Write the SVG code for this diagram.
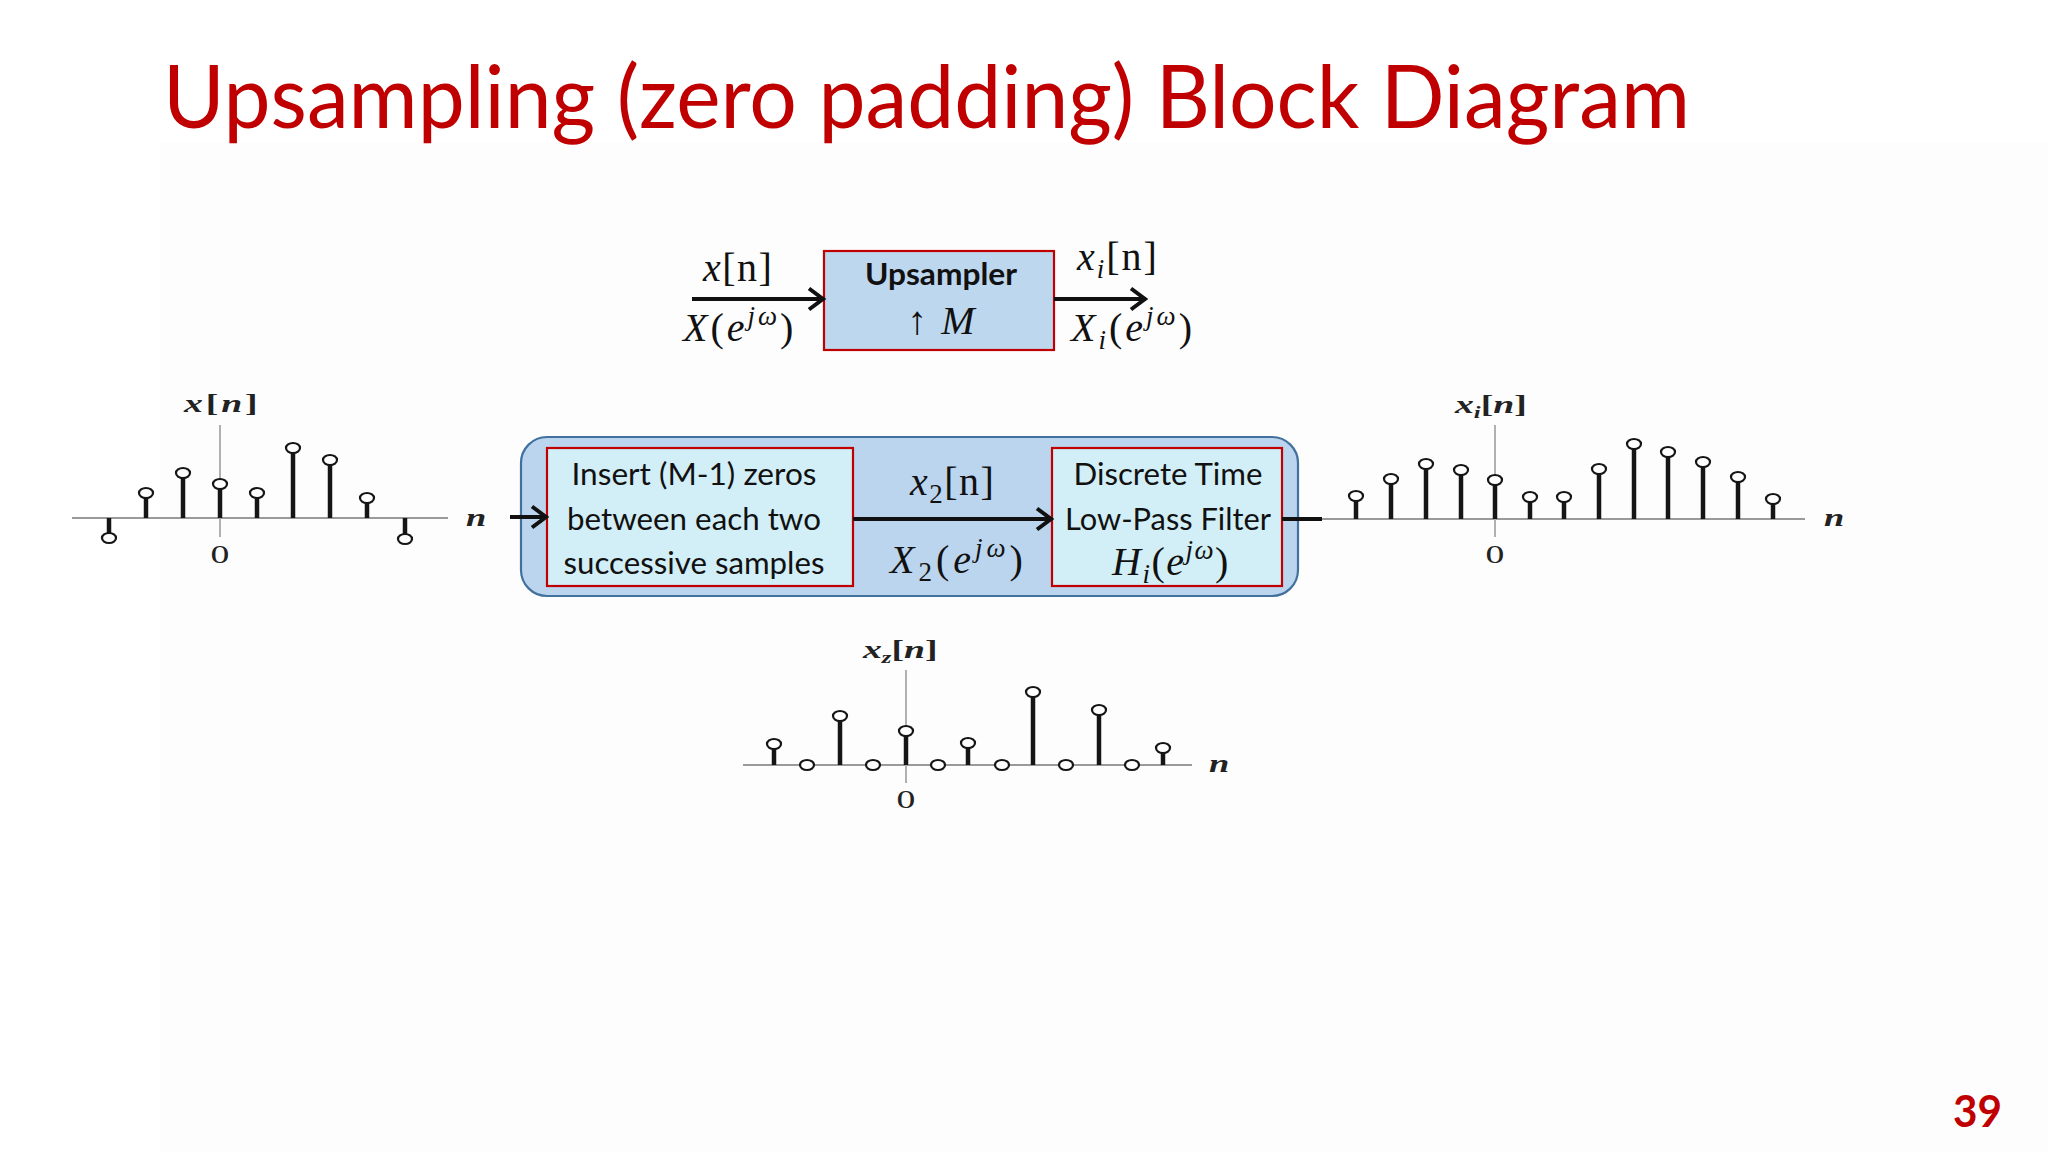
<svg xmlns="http://www.w3.org/2000/svg" width="2048" height="1152" viewBox="0 0 2048 1152">
<defs>
<style>
.title{font-family:Lato,"Open Sans","Liberation Sans",sans-serif;font-size:88px;fill:#C00000}
.pg{font-family:Lato,"Open Sans","Liberation Sans",sans-serif;font-size:43px;font-weight:bold;fill:#C00000}
.body{font-family:Lato,"Open Sans","Liberation Sans",sans-serif;font-size:30.5px;fill:#111}
.bold{font-weight:bold}
.math{font-family:"Liberation Serif","DejaVu Serif",serif;font-size:40px;fill:#111}
.it{font-style:italic}
.sm{font-size:27px}
.plab{font-family:"Liberation Serif","DejaVu Serif",serif;font-size:26px;font-weight:bold;fill:#222}
.zero{font-family:"Liberation Serif","DejaVu Serif",serif;font-size:26px;fill:#222}
.red{stroke:#C00000;stroke-width:2.2}
.conn{stroke:#111;stroke-width:4;fill:none}
.axis{stroke:#9a9a9a;stroke-width:2;fill:none}
.vaxis{stroke:#b0b0b0;stroke-width:2;fill:none}
.stem{stroke:#151515;stroke-width:4.5;fill:none}
.dot{fill:#fff;stroke:#151515;stroke-width:2.2}
</style>
<marker id="arr" markerUnits="userSpaceOnUse" viewBox="0 0 22 26" markerWidth="22" markerHeight="26" refX="19" refY="13" orient="auto">
<path d="M4,2.5 L18,13 L4,23.5" fill="none" stroke="#111" stroke-width="4"/>
</marker>
</defs>
<rect x="0" y="0" width="2048" height="1152" fill="#ffffff"/>
<rect x="160" y="142" width="1888" height="1010" fill="#fdfdfe"/>

<g id="title">
<text class="title" x="163" y="128" textLength="1527" lengthAdjust="spacingAndGlyphs">Upsampling (zero padding) Block Diagram</text>
</g>
<g id="page-number">
<text class="pg" x="1953" y="1127" textLength="49" lengthAdjust="spacingAndGlyphs">39</text>
</g>

<g id="upsampler">
<rect x="824" y="251" width="230" height="99" fill="#BDD7EE" class="red"/>
<text class="body bold" x="941" y="285" text-anchor="middle" textLength="152" lengthAdjust="spacingAndGlyphs">Upsampler</text>
<text class="math" x="942" y="334" text-anchor="middle" font-size="38" letter-spacing="2">↑ <tspan class="it">M</tspan></text>
</g>

<g id="label-x-in">
<text class="math" x="703" y="281" letter-spacing="1.5"><tspan class="it">x</tspan>[n]</text>
<text class="math" x="683" y="341" letter-spacing="3"><tspan class="it">X</tspan>(<tspan class="it">e</tspan><tspan class="it sm" dy="-16">jω</tspan><tspan dy="16">)</tspan></text>
</g>
<g id="label-x-out">
<text class="math" x="1077" y="270" letter-spacing="2"><tspan class="it">x</tspan><tspan class="it sm" dy="8">i</tspan><tspan dy="-8">[n]</tspan></text>
<text class="math" x="1071" y="341" letter-spacing="3"><tspan class="it">X</tspan><tspan class="it sm" dy="8">i</tspan><tspan dy="-8">(</tspan><tspan class="it">e</tspan><tspan class="it sm" dy="-16">jω</tspan><tspan dy="16">)</tspan></text>
</g>

<g id="system">
<rect x="521" y="437" width="777" height="159" rx="26" ry="26" fill="#BCD5EE" stroke="#41719C" stroke-width="2.2"/>
</g>
<g id="insert-zeros">
<rect x="547" y="448" width="306" height="138" fill="#D2EEF6" class="red"/>
<text class="body" x="694" y="485" text-anchor="middle" textLength="245" lengthAdjust="spacingAndGlyphs">Insert (M-1) zeros</text>
<text class="body" x="694" y="530" text-anchor="middle" textLength="254" lengthAdjust="spacingAndGlyphs">between each two</text>
<text class="body" x="694" y="574" text-anchor="middle" textLength="261" lengthAdjust="spacingAndGlyphs">successive samples</text>
</g>
<g id="lowpass-filter">
<rect x="1052" y="448" width="230" height="138" fill="#D2EEF6" class="red"/>
<text class="body" x="1168" y="485" text-anchor="middle" textLength="189" lengthAdjust="spacingAndGlyphs">Discrete Time</text>
<text class="body" x="1168" y="530" text-anchor="middle" textLength="206" lengthAdjust="spacingAndGlyphs">Low-Pass Filter</text>
<text class="math" x="1112" y="575" font-size="38" letter-spacing="1.5"><tspan class="it">H</tspan><tspan class="it sm" dy="8">i</tspan><tspan dy="-8">(</tspan><tspan class="it">e</tspan><tspan class="it sm" dy="-16">jω</tspan><tspan dy="16">)</tspan></text>
</g>
<g id="label-x2">
<text class="math" x="910" y="495" letter-spacing="1.5"><tspan class="it">x</tspan><tspan class="sm" dy="8">2</tspan><tspan dy="-8">[n]</tspan></text>
<text class="math" x="890" y="573" letter-spacing="4"><tspan class="it">X</tspan><tspan class="sm" dy="8">2</tspan><tspan dy="-8">(</tspan><tspan class="it">e</tspan><tspan class="it sm" dy="-16">jω</tspan><tspan dy="16">)</tspan></text>
</g>

<g id="connectors">
<line class="conn" x1="692" y1="299" x2="824" y2="299" marker-end="url(#arr)"/>
<line class="conn" x1="1054" y1="299" x2="1146" y2="299" marker-end="url(#arr)"/>
<line class="conn" x1="510" y1="517" x2="547" y2="517" marker-end="url(#arr)"/>
<line class="conn" x1="853" y1="519" x2="1052" y2="519" marker-end="url(#arr)"/>
<line class="conn" x1="1282" y1="519" x2="1322" y2="519"/>
</g>

<g id="plot-x">
<line class="axis" x1="72" y1="518" x2="448" y2="518"/>
<line class="vaxis" x1="220" y1="425" x2="220" y2="537"/>
<line class="stem" x1="109" y1="518" x2="109" y2="533"/><ellipse class="dot" cx="109" cy="538" rx="7" ry="5"/>
<line class="stem" x1="146" y1="518" x2="146" y2="498"/><ellipse class="dot" cx="146" cy="493" rx="7" ry="5"/>
<line class="stem" x1="183" y1="518" x2="183" y2="478"/><ellipse class="dot" cx="183" cy="473" rx="7" ry="5"/>
<line class="stem" x1="220" y1="518" x2="220" y2="489"/><ellipse class="dot" cx="220" cy="484" rx="7" ry="5"/>
<line class="stem" x1="257" y1="518" x2="257" y2="498"/><ellipse class="dot" cx="257" cy="493" rx="7" ry="5"/>
<line class="stem" x1="293" y1="518" x2="293" y2="453"/><ellipse class="dot" cx="293" cy="448" rx="7" ry="5"/>
<line class="stem" x1="330" y1="518" x2="330" y2="465"/><ellipse class="dot" cx="330" cy="460" rx="7" ry="5"/>
<line class="stem" x1="367" y1="518" x2="367" y2="503"/><ellipse class="dot" cx="367" cy="498" rx="7" ry="5"/>
<line class="stem" x1="405" y1="518" x2="405" y2="534"/><ellipse class="dot" cx="405" cy="539" rx="7" ry="5"/>
<text class="plab" transform="translate(184,412) scale(1.45,1)" letter-spacing="2"><tspan class="it">x</tspan>[<tspan class="it">n</tspan>]</text>
<text class="zero" transform="translate(220,563) scale(1.45,1)" text-anchor="middle">0</text>
<text class="plab" transform="translate(466,526) scale(1.4,1)"><tspan class="it">n</tspan></text>
</g>

<g id="plot-xi">
<line class="axis" x1="1322" y1="519" x2="1805" y2="519"/>
<line class="vaxis" x1="1495" y1="425" x2="1495" y2="537"/>
<line class="stem" x1="1356" y1="519" x2="1356" y2="501"/><ellipse class="dot" cx="1356" cy="496" rx="7" ry="5"/>
<line class="stem" x1="1391" y1="519" x2="1391" y2="484"/><ellipse class="dot" cx="1391" cy="479" rx="7" ry="5"/>
<line class="stem" x1="1426" y1="519" x2="1426" y2="469"/><ellipse class="dot" cx="1426" cy="464" rx="7" ry="5"/>
<line class="stem" x1="1461" y1="519" x2="1461" y2="475"/><ellipse class="dot" cx="1461" cy="470" rx="7" ry="5"/>
<line class="stem" x1="1495" y1="519" x2="1495" y2="485"/><ellipse class="dot" cx="1495" cy="480" rx="7" ry="5"/>
<line class="stem" x1="1530" y1="519" x2="1530" y2="502"/><ellipse class="dot" cx="1530" cy="497" rx="7" ry="5"/>
<line class="stem" x1="1564" y1="519" x2="1564" y2="502"/><ellipse class="dot" cx="1564" cy="497" rx="7" ry="5"/>
<line class="stem" x1="1599" y1="519" x2="1599" y2="474"/><ellipse class="dot" cx="1599" cy="469" rx="7" ry="5"/>
<line class="stem" x1="1634" y1="519" x2="1634" y2="449"/><ellipse class="dot" cx="1634" cy="444" rx="7" ry="5"/>
<line class="stem" x1="1668" y1="519" x2="1668" y2="457"/><ellipse class="dot" cx="1668" cy="452" rx="7" ry="5"/>
<line class="stem" x1="1703" y1="519" x2="1703" y2="467"/><ellipse class="dot" cx="1703" cy="462" rx="7" ry="5"/>
<line class="stem" x1="1738" y1="519" x2="1738" y2="482"/><ellipse class="dot" cx="1738" cy="477" rx="7" ry="5"/>
<line class="stem" x1="1773" y1="519" x2="1773" y2="504"/><ellipse class="dot" cx="1773" cy="499" rx="7" ry="5"/>
<text class="plab" transform="translate(1455,413) scale(1.45,1)"><tspan class="it">x</tspan><tspan class="it" font-size="17" dy="5">i</tspan><tspan dy="-5">[</tspan><tspan class="it">n</tspan>]</text>
<text class="zero" transform="translate(1495,563) scale(1.45,1)" text-anchor="middle">0</text>
<text class="plab" transform="translate(1824,526) scale(1.4,1)"><tspan class="it">n</tspan></text>
</g>

<g id="plot-xz">
<line class="axis" x1="743" y1="765" x2="1192" y2="765"/>
<line class="vaxis" x1="906" y1="670" x2="906" y2="783"/>
<line class="stem" x1="774" y1="765" x2="774" y2="749"/><ellipse class="dot" cx="774" cy="744" rx="7" ry="5"/>
<ellipse class="dot" cx="807" cy="765" rx="7" ry="5"/>
<line class="stem" x1="840" y1="765" x2="840" y2="721"/><ellipse class="dot" cx="840" cy="716" rx="7" ry="5"/>
<ellipse class="dot" cx="873" cy="765" rx="7" ry="5"/>
<line class="stem" x1="906" y1="765" x2="906" y2="736"/><ellipse class="dot" cx="906" cy="731" rx="7" ry="5"/>
<ellipse class="dot" cx="938" cy="765" rx="7" ry="5"/>
<line class="stem" x1="968" y1="765" x2="968" y2="748"/><ellipse class="dot" cx="968" cy="743" rx="7" ry="5"/>
<ellipse class="dot" cx="1002" cy="765" rx="7" ry="5"/>
<line class="stem" x1="1033" y1="765" x2="1033" y2="697"/><ellipse class="dot" cx="1033" cy="692" rx="7" ry="5"/>
<ellipse class="dot" cx="1066" cy="765" rx="7" ry="5"/>
<line class="stem" x1="1099" y1="765" x2="1099" y2="715"/><ellipse class="dot" cx="1099" cy="710" rx="7" ry="5"/>
<ellipse class="dot" cx="1132" cy="765" rx="7" ry="5"/>
<line class="stem" x1="1163" y1="765" x2="1163" y2="753"/><ellipse class="dot" cx="1163" cy="748" rx="7" ry="5"/>
<text class="plab" transform="translate(863,658) scale(1.45,1)"><tspan class="it">x</tspan><tspan class="it" font-size="17" dy="5">z</tspan><tspan dy="-5">[</tspan><tspan class="it">n</tspan>]</text>
<text class="zero" transform="translate(906,808) scale(1.45,1)" text-anchor="middle">0</text>
<text class="plab" transform="translate(1209,772) scale(1.4,1)"><tspan class="it">n</tspan></text>
</g>
</svg>
